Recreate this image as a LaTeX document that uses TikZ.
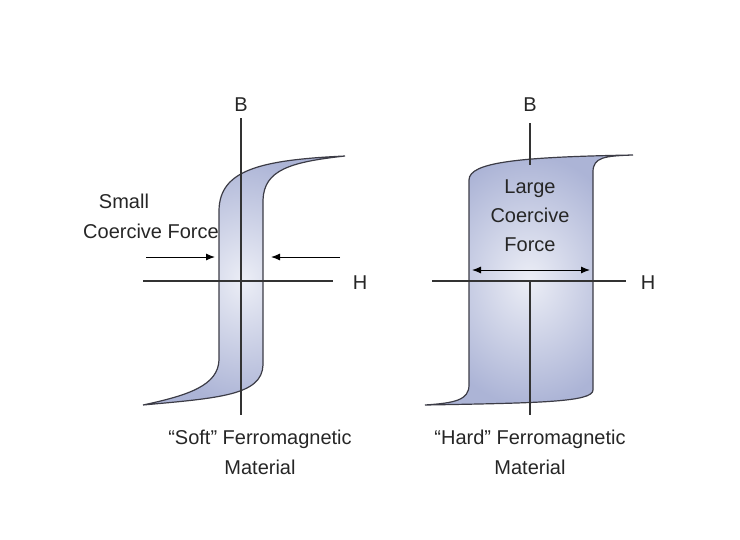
\documentclass[tikz,border=0pt]{standalone}
\usepackage{fontspec}
\setmainfont{Liberation Sans}
\usetikzlibrary{positioning,arrows.meta}
\definecolor{loopfill}{RGB}{172,180,214}
\definecolor{loopcore}{RGB}{236,238,246}
\definecolor{loopline}{RGB}{60,60,70}
\begin{document}
\begin{tikzpicture}[x=1pt,y=-1pt,
  axis/.style={draw=black!80,line width=1.1pt},
  loopshape/.style={draw=loopline,line width=1.2pt,inner color=loopcore,outer color=loopfill},
  lbl/.style={font=\fontsize{20}{24}\selectfont,align=center,text=black!85},
  force/.style={-{Latex[length=9pt,width=7pt]},line width=1pt}]
\useasboundingbox (0,0) rectangle (740,539);
% soft loop
\path[loopshape] (143,405) .. controls (190,395) and (218,385) .. (219,360)
  -- (219,210) .. controls (220,170) and (260,160) .. (345,156)
  .. controls (290,162) and (264,170) .. (263,200)
  -- (263,365) .. controls (262,395) and (220,398) .. (143,405) -- cycle;
% hard loop
\path[loopshape] (425,405) .. controls (455,403) and (469,400) .. (469,385)
  -- (469,180) .. controls (469,162) and (520,157) .. (633,155)
  .. controls (605,156) and (593,157) .. (593,172)
  -- (593,390) .. controls (593,402) and (540,403) .. (425,405) -- cycle;
% axes
\coordinate (sB1) at (241,118); \coordinate (sB2) at (241,415);
\coordinate (sH1) at (143,281); \coordinate (sH2) at (333,281);
\draw[axis] (sB1) -- (sB2);
\draw[axis] (sH1) -- (sH2);
\coordinate (hB1) at (530,123); \coordinate (hB2) at (530,165);
\coordinate (hB3) at (530,281); \coordinate (hB4) at (530,415);
\coordinate (hH1) at (432,281); \coordinate (hH2) at (626,281);
\draw[axis] (hB1) -- (hB2);
\draw[axis] (hB3) -- (hB4);
\draw[axis] (hH1) -- (hH2);
% labels
\node[lbl] (sB) at (241,105) {B};
\node[lbl] (sH) at (360,283) {H};
\node[lbl] (hB) at (530,105) {B};
\node[lbl] (hH) at (648,283) {H};
\node[lbl] (small) at (124,201) {Small};
\node[lbl] (coer) at (151,231) {Coercive Force};
\node[lbl] (soft) at (260,439) {“Soft” Ferromagnetic};
\node[lbl] (softm) at (260,467) {Material};
\node[lbl] (hard) at (530,439) {“Hard” Ferromagnetic};
\node[lbl] (hardm) at (530,467) {Material};
\node[lbl,font=\fontsize{20}{29}\selectfont] (large) at (530,216) {Large\\Coercive\\Force};
% arrows
\coordinate (a1) at (146,257); \coordinate (a2) at (215,257);
\coordinate (a3) at (340,257); \coordinate (a4) at (271,257);
\draw[force] (a1) -- (a2);
\draw[force] (a3) -- (a4);
\coordinate (b1) at (472,270); \coordinate (b2) at (590,270);
\draw[force,{Latex[length=9pt,width=7pt]}-{Latex[length=9pt,width=7pt]}] (b1) -- (b2);
\end{tikzpicture}
\end{document}
